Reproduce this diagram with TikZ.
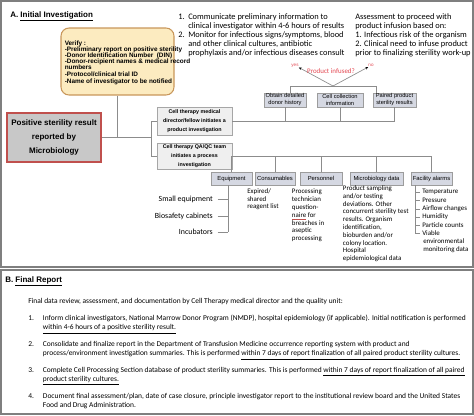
\documentclass[tikz,border=0pt]{standalone}
\usepackage{fontspec}
\setmainfont{Carlito}
\newfontfamily\arialfont{Liberation Sans}
\usetikzlibrary{arrows.meta}

\definecolor{framegray}{HTML}{7F7F7F}
\definecolor{linegray}{HTML}{8C8C8C}
\definecolor{verifyfill}{HTML}{FCEBC0}
\definecolor{verifyedge}{HTML}{C8965A}
\definecolor{reportfill}{HTML}{C8C8C8}
\definecolor{reportedge}{HTML}{C0504D}
\definecolor{teamfill}{HTML}{EFEFEF}
\definecolor{teamedge}{HTML}{A6A6A6}
\definecolor{smallfill}{HTML}{D5D8E2}
\definecolor{smalledge}{HTML}{9C9C9C}
\definecolor{infusedred}{HTML}{E2454F}

\tikzset{
  frameline/.style={draw=framegray, line width=1.5pt},
  linkline/.style={draw=linegray, line width=0.6pt},
  infusedarrow/.style={draw=linegray, line width=0.5pt, -{Stealth[length=2.2pt,width=1.8pt,black]}},
  heading/.style={inner sep=0pt, font=\arialfont\bfseries\fontsize{6}{7}\selectfont},
  verifybox/.style={draw=verifyedge, fill=verifyfill, rounded corners=6pt, line width=0.8pt, inner sep=0pt},
  verifytext/.style={inner sep=0pt, align=left, font=\arialfont\bfseries\fontsize{4.8}{4.6}\selectfont},
  reportbox/.style={draw=reportedge, fill=reportfill, line width=1pt, align=center, inner sep=0pt, font=\arialfont\bfseries\fontsize{6}{10.5}\selectfont},
  teambox/.style={draw=teamedge, fill=teamfill, line width=0.5pt, align=center, inner sep=0pt, minimum width=56.25pt, font=\arialfont\bfseries\fontsize{4}{6.75}\selectfont},
  sourcebox/.style={draw=smalledge, fill=smallfill, line width=0.5pt, align=center, inner sep=0pt, minimum height=10.5pt, font=\arialfont\fontsize{4.3}{5.25}\selectfont},
  areabox/.style={draw=smalledge, fill=smallfill, line width=0.5pt, inner sep=0pt, minimum height=9.75pt, font=\arialfont\fontsize{4.4}{5}\selectfont},
  plannote/.style={inner sep=0pt, align=left, font=\fontsize{6.3}{6.75}\selectfont},
  areanote/.style={inner sep=0pt, align=left, font=\fontsize{5.2}{5.85}\selectfont},
  areaitem/.style={inner sep=0pt, font=\fontsize{5.9}{6.5}\selectfont},
  alarmitem/.style={inner sep=0pt, font=\fontsize{5.2}{5.85}\selectfont},
  answer/.style={inner sep=0pt, text=infusedred, font=\arialfont\fontsize{3.4}{4}\selectfont},
  reporttext/.style={inner sep=0pt, font=\fontsize{5.6}{6}\selectfont},
}

\begin{document}
\begin{tikzpicture}[x=0.75pt,y=0.75pt,yscale=-1,xscale=1]
\useasboundingbox (0,0) rectangle (474,415);

% Frames of the two panels
\draw[frameline] (1,1) rectangle (473,267);
\draw[frameline] (1,270) rectangle (473,414);

% Heading A
\node[heading, anchor=base west] (headA) at (10,17) {A. \underline{Initial Investigation}};

% Verify box
\node[verifybox, minimum width=84.75pt, minimum height=50.25pt] (verify) at (117.5,61.5) {};
\node[verifytext, anchor=north west] (verifylist) at (64.5,40.3) {Verify :\\
-Preliminary report on positive sterility\\
-Donor Identification Number \ (DIN)\\
-Donor-recipient names \& medical record\\
numbers\\[0.5pt]
-Protocol/clinical trial ID\\[0.7pt]
-Name of investigator to be notified};

% Notes on top
\node[plannote, anchor=north west] (tasks) at (178,13) {\makebox[7.5pt][l]{1.}Communicate preliminary information to\\
\hspace*{7.5pt}clinical investigator within 4-6 hours of results\\
\makebox[7.5pt][l]{2.}Monitor for infectious signs/symptoms, blood\\
\hspace*{7.5pt}and other clinical cultures, antibiotic\\
\hspace*{7.5pt}prophylaxis and/or infectious diseases consult};
\node[plannote, anchor=north west] (assessment) at (355,13) {Assessment to proceed with\\
product infusion based on:\\
1. Infectious risk of the organism\\
2. Clinical need to infuse product\\
prior to finalizing sterility work-up};

% Start box
\node[reportbox, minimum width=70.5pt, minimum height=36.75pt] (report) at (54,137.5) {Positive sterility result\\reported by\\Microbiology};

% Investigations
\node[teambox, minimum height=21pt] (director) at (194.5,121) {Cell therapy medical\\director/fellow initiates a\\product investigation};
\node[teambox, minimum height=19.5pt] (qaqc) at (194.5,156) {Cell therapy QA/QC team\\initiates a process\\investigation};

\coordinate (split) at (151,137.5);
\draw[linkline] (verify.south) -- (verify.south |- report.east);
\draw[linkline] (report.east) -- (split);
\draw[linkline] (split |- director.west) -- (split |- qaqc.west);
\draw[linkline] (split |- director.west) -- (director.west);
\draw[linkline] (split |- qaqc.west) -- (qaqc.west);

% Product investigation
\node[sourcebox, minimum width=31.5pt] (donor) at (285,100) {Obtain detailed\\donor history};
\node[sourcebox, minimum width=34.5pt] (collection) at (340,100) {Cell collection\\information};
\node[sourcebox, minimum width=32.25pt] (paired) at (394.5,100) {Paired product\\sterility results};

\draw[linkline] (director.east) -- (paired.south |- director.east);
\draw[linkline] (donor.south) -- (donor.south |- director.east);
\draw[linkline] (collection.south) -- (collection.south |- director.east);
\draw[linkline] (paired.south) -- (paired.south |- director.east);

\coordinate (bracketL) at (290,86);
\coordinate (bracketR) at (376,86);
\coordinate (fork) at (333,86);
\draw[linkline] (bracketL |- donor.north) -- (bracketL) -- (bracketR) -- (bracketR |- paired.north);

\node[answer] (yes) at (295,65.5) {yes};
\node[answer] (no) at (371,65.5) {no};
\draw[infusedarrow] (fork) -- (yes.south east);
\draw[infusedarrow] (fork) -- (no.south west);
\node[inner sep=0pt, text=infusedred, font=\fontsize{5.2}{6}\selectfont] (infused) at (331,71) {Product infused?};

% Process investigation
\node[areabox, minimum width=30.75pt] (equipment) at (231.5,178.5) {Equipment};
\node[areabox, minimum width=30pt] (consumables) at (275,178.5) {Consumables};
\node[areabox, minimum width=31.5pt] (personnel) at (321,178.5) {Personnel};
\node[areabox, minimum width=39.75pt] (micro) at (376.5,178.5) {Microbiology data};
\node[areabox, minimum width=30.75pt] (alarms) at (431.5,178.5) {Facility alarms};

\draw[linkline] (qaqc.east) -- (alarms.north |- qaqc.east);
\draw[linkline] (equipment.north) -- (equipment.north |- qaqc.east);
\draw[linkline] (consumables.north) -- (consumables.north |- qaqc.east);
\draw[linkline] (personnel.north) -- (personnel.north |- qaqc.east);
\draw[linkline] (micro.north) -- (micro.north |- qaqc.east);
\draw[linkline] (alarms.north) -- (alarms.north |- qaqc.east);

% Equipment
\coordinate (eqspine) at (228,185);
\node[areaitem, anchor=east] (smallequip) at (213,199) {Small equipment};
\node[areaitem, anchor=east] (cabinets) at (213,216) {Biosafety cabinets};
\node[areaitem, anchor=east] (incubators) at (213,232) {Incubators};
\draw[linkline] (eqspine) -- (eqspine |- incubators.east);
\draw[linkline] ([xshift=3.5pt]smallequip.east) -- (eqspine |- smallequip.east);
\draw[linkline] ([xshift=3.5pt]cabinets.east) -- (eqspine |- cabinets.east);
\draw[linkline] ([xshift=3.5pt]incubators.east) -- (eqspine |- incubators.east);

% Notes under the areas
\node[areanote, anchor=north west] (consumablesnote) at (247,188.2) {Expired/\\shared\\reagent list};
\node[areanote, anchor=north west] (personnelnote) at (291.7,188.9) {Processing\\technician\\question-\\\textcolor{reportedge}{\underline{\textcolor{black}{naire}}} for\\breaches in\\aseptic\\processing};
\node[areanote, anchor=north west] (micronote) at (342.7,185.5) {Product sampling\\and/or testing\\deviations. Other\\concurrent sterility test\\results. Organism\\identification,\\bioburden and/or\\colony location.\\Hospital\\epidemiological data};

% Facility alarms
\coordinate (alarmspine) at (415,185);
\node[alarmitem, anchor=west] (temperature) at (422,192.3) {Temperature};
\node[alarmitem, anchor=west] (pressure) at (422,200.6) {Pressure};
\node[alarmitem, anchor=west] (airflow) at (422,208.9) {Airflow changes};
\node[alarmitem, anchor=west] (humidity) at (422,217.1) {Humidity};
\node[alarmitem, anchor=west] (particles) at (422,225.2) {Particle counts};
\node[alarmitem, anchor=west] (viable) at (422,233.3) {Viable};
\node[areanote, anchor=north west] (viablenote) at (423,238.6) {environmental\\monitoring data};
\draw[linkline] (alarmspine) -- (alarmspine |- viable.west);
\draw[linkline] (alarmspine |- temperature.west) -- ([xshift=-1.5pt]temperature.west);
\draw[linkline] (alarmspine |- pressure.west) -- ([xshift=-1.5pt]pressure.west);
\draw[linkline] (alarmspine |- airflow.west) -- ([xshift=-1.5pt]airflow.west);
\draw[linkline] (alarmspine |- humidity.west) -- ([xshift=-1.5pt]humidity.west);
\draw[linkline] (alarmspine |- particles.west) -- ([xshift=-1.5pt]particles.west);
\draw[linkline] (alarmspine |- viable.west) -- ([xshift=-1.5pt]viable.west);

% Heading B
\node[heading, anchor=base west] (headB) at (5,282) {B. \underline{Final Report}};

% Final report text
\node[reporttext, anchor=base west] (intro) at (28,303.7) {Final data review, assessment, and documentation by Cell Therapy medical director and the quality unit:};
\node[reporttext, anchor=base west] (num1) at (28,320.3) {1.};
\node[reporttext, anchor=base west] (step1a) at (42.7,320.3) {Inform clinical investigators, National Marrow Donor Program (NMDP), hospital epidemiology (if applicable). Initial notification is performed};
\node[reporttext, anchor=base west] (step1b) at (42.7,329.7) {\underline{within 4-6 hours of a positive sterility result.}};
\node[reporttext, anchor=base west] (num2) at (28,346.3) {2.};
\node[reporttext, anchor=base west] (step2a) at (42.7,346.3) {Consolidate and finalize report in the Department of Transfusion Medicine occurrence reporting system with product and};
\node[reporttext, anchor=base west] (step2b) at (42.7,355.7) {process/environment investigation summaries. This is performed \underline{within 7 days of report finalization of all paired product sterility cultures.}};
\node[reporttext, anchor=base west] (num3) at (28,372) {3.};
\node[reporttext, anchor=base west] (step3a) at (42.7,372) {Complete Cell Processing Section database of product sterility summaries. This is performed \underline{within 7 days of report finalization of all paired}};
\node[reporttext, anchor=base west] (step3b) at (42.7,381) {\underline{product sterility cultures.}};
\node[reporttext, anchor=base west] (num4) at (28,398.7) {4.};
\node[reporttext, anchor=base west] (step4a) at (42.7,398.7) {Document final assessment/plan, date of case closure, principle investigator report to the institutional review board and the United States};
\node[reporttext, anchor=base west] (step4b) at (42.7,407.7) {Food and Drug Administration.};

\end{tikzpicture}
\end{document}
